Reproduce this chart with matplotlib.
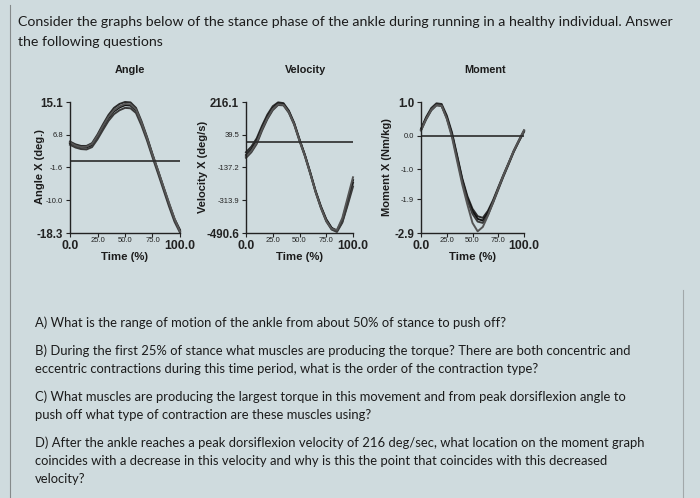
import numpy as np
import matplotlib.pyplot as plt
from matplotlib.lines import Line2D

pct = [0, 5, 10, 15, 20, 25, 30, 35, 40, 45, 50, 55, 60, 65, 70, 75, 80, 85, 90, 95, 100]

# ankle angle (deg), a few trials
angle_trials = [
    [5.0, 4.3, 3.9, 3.9, 4.6, 6.8, 9.4, 11.8, 13.6, 14.6, 15.1, 15.0, 13.6, 10.2, 6.2, 1.8, -2.4, -6.6, -10.8, -14.7, -17.5],
    [4.6, 3.9, 3.5, 3.5, 4.1, 6.2, 8.7, 11.0, 12.7, 13.7, 14.3, 14.2, 12.9, 9.6, 5.8, 1.5, -2.6, -6.8, -11.0, -14.9, -17.8],
    [4.2, 3.5, 3.1, 3.0, 3.6, 5.6, 8.0, 10.3, 12.0, 13.0, 13.6, 13.5, 12.3, 9.1, 5.3, 1.0, -3.1, -7.3, -11.5, -15.4, -18.2],
    [4.8, 4.0, 3.6, 3.7, 4.4, 6.5, 9.0, 11.3, 13.0, 14.0, 14.6, 14.5, 13.2, 9.9, 6.0, 1.7, -2.3, -6.5, -10.6, -14.6, -17.9],
]

# ankle velocity (deg/s)
velocity_trials = [
    [-55, -25, 20, 88, 148, 193, 214, 210, 170, 104, 15, -68, -162, -262, -346, -416, -462, -480, -430, -330, -220],
    [-70, -40, 5, 75, 135, 182, 208, 205, 165, 100, 12, -70, -165, -265, -350, -420, -465, -478, -420, -315, -205],
    [-85, -55, -10, 62, 124, 172, 200, 198, 158, 94, 6, -76, -170, -270, -356, -428, -472, -485, -435, -340, -240],
    [-78, -48, -2, 70, 130, 178, 204, 201, 162, 97, 9, -73, -168, -268, -353, -424, -468, -474, -410, -300, -190],
]

# ankle moment (Nm/kg)
moment_trials = [
    [0.20, 0.55, 0.82, 0.96, 0.94, 0.60, 0.10, -0.58, -1.27, -1.80, -2.18, -2.40, -2.45, -2.24, -1.92, -1.54, -1.17, -0.82, -0.46, -0.15, 0.15],
    [0.18, 0.52, 0.78, 0.92, 0.90, 0.55, 0.05, -0.62, -1.31, -1.86, -2.25, -2.48, -2.53, -2.30, -1.96, -1.58, -1.20, -0.84, -0.47, -0.16, 0.13],
    [0.15, 0.48, 0.75, 0.90, 0.88, 0.52, 0.02, -0.66, -1.36, -1.92, -2.33, -2.56, -2.60, -2.36, -2.00, -1.61, -1.22, -0.86, -0.49, -0.18, 0.11],
    [0.16, 0.50, 0.77, 0.91, 0.89, 0.50, -0.04, -0.75, -1.45, -2.05, -2.60, -2.85, -2.72, -2.38, -1.98, -1.57, -1.18, -0.82, -0.45, -0.14, 0.16],
]

angle_ticks = [15.1, 6.8, -1.6, -10.0, -18.3]
velocity_ticks = [216.1, 39.5, -137.2, -313.9, -490.6]
moment_ticks = [1.0, 0.0, -1.0, -1.9, -2.9]
time_ticks = [0, 25, 50, 75, 100]
time_labels = ['0.0', '25.0', '50.0', '75.0', '100.0']

header = ["Consider the graphs below of the stance phase of the ankle during running in a healthy individual. Answer",
          "the following questions"]
questions = [
    (323, "A) What is the range of motion of the ankle from about 50% of stance to push off?"),
    (351, "B) During the first 25% of stance what muscles are producing the torque? There are both concentric and"),
    (369, "eccentric contractions during this time period, what is the order of the contraction type?"),
    (397, "C) What muscles are producing the largest torque in this movement and from peak dorsiflexion angle to"),
    (415, "push off what type of contraction are these muscles using?"),
    (443, "D) After the ankle reaches a peak dorsiflexion velocity of 216 deg/sec, what location on the moment graph"),
    (461, "coincides with a decrease in this velocity and why is this the point that coincides with this decreased"),
    (479, "velocity?"),
]

W, H = 700, 498
bg = '#cfdbde'
ink = '#1c1c1c'
plt.rcParams['font.family'] = ['Liberation Sans', 'DejaVu Sans']

fig = plt.figure(figsize=(7, 4.98), dpi=100, facecolor=bg)

fig.text(18 / W, 1 - 22 / H, header[0], fontsize=10.2, color=ink, va='center', family='Lato')
fig.text(18 / W, 1 - 42 / H, header[1], fontsize=10.2, color=ink, va='center', family='Lato')
for y, line in questions:
    fig.text(35 / W, 1 - y / H, line, fontsize=9.4, color=ink, va='center', family='Lato')

# faint frame of the photographed sheet
fig.add_artist(Line2D([10 / W, 10 / W], [0, 1 - 5 / H], color='#555555', lw=0.8, alpha=0.6))
fig.add_artist(Line2D([683 / W, 683 / W], [0, 1 - 290 / H], color='#777777', lw=0.8, alpha=0.5))

panels = [
    ('Angle', 'Angle X (deg.)', angle_trials, angle_ticks, 70, 180, 130, 40),
    ('Velocity', 'Velocity X (deg/s)', velocity_trials, velocity_ticks, 246, 353, 305, 203),
    ('Moment', 'Moment X (Nm/kg)', moment_trials, moment_ticks, 421, 524, 485, 387),
]

trial_colors = ['#2a2a2a', '#111111', '#3a3a3a', '#555555']

for title, ylab, trials, yticks, x0, x1, tx, lx in panels:
    ax = fig.add_axes([x0 / W, 1 - 233 / H, (x1 - x0) / W, 131 / H])
    ax.set_facecolor('none')
    for tr, c in zip(trials, trial_colors):
        ax.plot(pct, tr, color=c, lw=1.4, clip_on=False)
    ax.plot([0, 100], [0, 0], color='#2b2b2b', lw=1.2)
    ax.set_xlim(0, 100)
    ax.set_ylim(yticks[-1], yticks[0])
    for s in ['top', 'right']:
        ax.spines[s].set_visible(False)
    for s in ['left', 'bottom']:
        ax.spines[s].set_color('#222222')
        ax.spines[s].set_linewidth(1.0)
    ax.tick_params(direction='out', length=3, width=0.8, colors='#222222', pad=2)
    ax.set_yticks(yticks)
    ax.set_yticklabels(['%.1f' % v for v in yticks])
    ax.set_xticks(time_ticks)
    ax.set_xticklabels(time_labels)
    for i, lab in enumerate(ax.get_yticklabels()):
        if i in (0, len(yticks) - 1):
            lab.set_fontsize(8.3)
            lab.set_fontweight('bold')
        else:
            lab.set_fontsize(5.5)
    for i, lab in enumerate(ax.get_xticklabels()):
        if i in (0, len(time_ticks) - 1):
            lab.set_fontsize(8.8)
            lab.set_fontweight('bold')
        else:
            lab.set_fontsize(5.5)
            lab.set_y(0.02)
    ax.set_xlabel('Time (%)', fontsize=8.2, fontweight='bold', color=ink, labelpad=0)
    fig.text(tx / W, 1 - 70 / H, title, fontsize=7.8, fontweight='bold', color=ink, ha='center', va='center')
    fig.text(lx / W, 1 - 167 / H, ylab, fontsize=8.0, fontweight='bold', color=ink,
             rotation=90, ha='center', va='center')

fig.savefig('out.png', dpi=100, facecolor=bg)
